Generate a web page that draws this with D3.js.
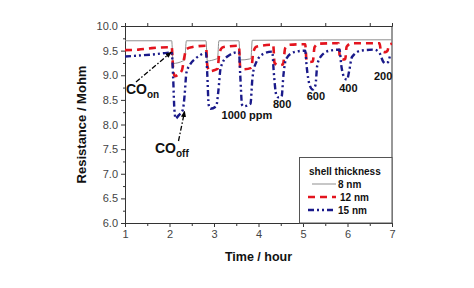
<!DOCTYPE html>
<html>
<head>
<meta charset="utf-8">
<script src="https://cdn.jsdelivr.net/npm/d3@7"></script>
<style>
  body { margin: 0; background: #fff; }
  text { font-family: "Liberation Sans", Arial, sans-serif; }
</style>
</head>
<body>
<svg id="chart" width="474" height="288"></svg>
<script>
// series: [time in hours, resistance in Mohm]
var shell8 = [[1.0,9.70],[2.05,9.70],[2.08,9.24],[2.30,9.29],[2.34,9.31],[2.38,9.70],[2.82,9.70],[2.85,9.29],[3.05,9.33],[3.08,9.34],[3.11,9.70],[3.56,9.70],[3.59,9.31],[3.80,9.33],[3.83,9.34],[3.86,9.71],[7.0,9.72]]
var shell12 = [[1.0,9.51],[1.3,9.52],[1.6,9.55],[2.0,9.57],[2.05,9.57],[2.08,9.15],[2.12,8.98],[2.2,9.02],[2.28,9.1],[2.32,9.3],[2.38,9.53],[2.5,9.57],[2.82,9.60],[2.85,9.2],[2.9,9.08],[3.0,9.1],[3.08,9.13],[3.12,9.45],[3.2,9.57],[3.56,9.6],[3.59,9.15],[3.65,9.12],[3.84,9.15],[3.88,9.45],[3.95,9.58],[4.33,9.62],[4.36,9.25],[4.45,9.2],[4.55,9.22],[4.6,9.55],[4.7,9.62],[5.05,9.63],[5.08,9.3],[5.15,9.27],[5.22,9.28],[5.26,9.57],[5.35,9.64],[5.8,9.65],[5.83,9.35],[5.9,9.32],[5.95,9.33],[5.98,9.58],[6.1,9.65],[6.72,9.65],[6.75,9.5],[6.85,9.47],[6.9,9.5],[6.93,9.62],[7.0,9.64]]
var shell15 = [[1.0,9.38],[1.3,9.40],[1.6,9.42],[1.9,9.45],[2.05,9.46],[2.08,9.0],[2.11,8.3],[2.14,8.12],[2.2,8.18],[2.3,8.3],[2.34,8.6],[2.38,9.05],[2.45,9.2],[2.6,9.35],[2.82,9.45],[2.85,9.0],[2.88,8.4],[2.92,8.32],[3.05,8.37],[3.1,8.7],[3.15,9.15],[3.3,9.38],[3.56,9.47],[3.59,9.0],[3.63,8.4],[3.66,8.37],[3.82,8.42],[3.86,8.9],[3.9,9.15],[4.1,9.43],[4.31,9.48],[4.34,9.1],[4.4,8.6],[4.45,8.55],[4.52,8.57],[4.56,9.0],[4.62,9.33],[4.8,9.47],[5.05,9.5],[5.08,9.2],[5.15,8.8],[5.22,8.71],[5.28,8.8],[5.32,9.2],[5.4,9.38],[5.6,9.5],[5.82,9.52],[5.86,9.2],[5.93,8.95],[5.99,8.91],[6.04,9.1],[6.1,9.37],[6.3,9.5],[6.6,9.52],[6.72,9.45],[6.8,9.28],[6.86,9.24],[6.92,9.28],[6.96,9.4],[7.0,9.42]]

var seriesNames = ['8 nm', '12 nm', '15 nm']
var xTicks = [1, 2, 3, 4, 5, 6, 7]
var yTicks = [6.0, 6.5, 7.0, 7.5, 8.0, 8.5, 9.0, 9.5, 10.0]

// concentration labels: [time, resistance, text]
var ppmLabels = [[3.74, 8.12, '1000 ppm'], [4.53, 8.33, '800'], [5.29, 8.49, '600'], [6.02, 8.65, '400'], [6.8, 8.9, '200']]

var svg = d3.select('#chart')
var margin = { left: 125, top: 26, right: 82, bottom: 65 }
var W = 474, H = 288
var x = d3.scaleLinear().domain([1, 7]).range([margin.left, W - margin.right])
var y = d3.scaleLinear().domain([6, 10]).range([H - margin.bottom, margin.top])

svg.append('defs').append('clipPath').attr('id', 'clip')
  .append('rect').attr('x', x(1)).attr('y', y(10)).attr('width', x(7) - x(1)).attr('height', y(6) - y(10))

var marker = svg.select('defs').append('marker')
  .attr('id', 'arrow').attr('viewBox', '0 0 10 10').attr('refX', 9).attr('refY', 5)
  .attr('markerWidth', 5).attr('markerHeight', 5).attr('orient', 'auto')
marker.append('path').attr('d', 'M0,1 L10,5 L0,9 Z').attr('fill', '#000')

var styles = [
  { color: '#8f8f8f', width: 1, dash: null },
  { color: '#e3141e', width: 2.6, dash: '7,5' },
  { color: '#1a1a8a', width: 2.4, dash: '6,3,2,3,2,3' }
]

// axes
var tickColor = '#333'
var fmt = d3.format('.1f')
var yAxis = svg.append('g').attr('transform', 'translate(' + x(1) + ',0)')
  .call(d3.axisLeft(y).tickValues(yTicks).tickFormat(fmt).tickSizeOuter(0).tickSize(4).tickPadding(3))
var yMinor = svg.append('g').attr('transform', 'translate(' + x(1) + ',0)')
  .call(d3.axisLeft(y).tickValues(d3.range(6.25, 10, 0.5)).tickFormat('').tickSizeOuter(0).tickSize(2))
var xAxis = svg.append('g').attr('transform', 'translate(0,' + y(6) + ')')
  .call(d3.axisBottom(x).tickValues(xTicks).tickFormat(d3.format('d')).tickSizeOuter(0).tickSize(4).tickPadding(3))
var xMinor = svg.append('g').attr('transform', 'translate(0,' + y(6) + ')')
  .call(d3.axisBottom(x).tickValues(d3.range(1.5, 7, 1)).tickFormat('').tickSizeOuter(0).tickSize(3))
var xTop = svg.append('g').attr('transform', 'translate(0,' + y(10) + ')')
  .call(d3.axisTop(x).tickValues(d3.range(1.5, 7, 1)).tickFormat('').tickSizeOuter(0).tickSize(3))
svg.append('line').attr('x1', x(7)).attr('x2', x(7)).attr('y1', y(10)).attr('y2', y(6))
  .attr('stroke', tickColor).attr('stroke-width', 1)
;[yAxis, yMinor, xAxis, xMinor, xTop].forEach((g) => {
  g.selectAll('path, line').attr('stroke', tickColor)
  g.selectAll('text').attr('font-size', 11).attr('fill', '#444')
    .style('font-family', '"Liberation Sans", Arial, sans-serif')
})

// axis titles
svg.append('text').attr('x', (x(1) + x(7)) / 2).attr('y', 261).attr('text-anchor', 'middle')
  .attr('font-size', 12.5).attr('font-weight', 'bold').attr('fill', '#111').text('Time / hour')
svg.append('text').attr('transform', 'translate(86,' + ((y(6) + y(10)) / 2) + ') rotate(-90)')
  .attr('text-anchor', 'middle').attr('font-size', 13).attr('font-weight', 'bold').attr('fill', '#111')
  .text('Resistance / Mohm')

// curves
var line = d3.line().x((d) => x(d[0])).y((d) => y(d[1])).curve(d3.curveMonotoneX)
var plot = svg.append('g').attr('clip-path', 'url(#clip)')
;[shell8, shell12, shell15].forEach((data, i) => {
  plot.append('path').datum(data).attr('d', line).attr('fill', 'none')
    .attr('stroke', styles[i].color).attr('stroke-width', styles[i].width)
    .attr('stroke-dasharray', styles[i].dash)
})

// concentration labels
ppmLabels.forEach((p) => {
  svg.append('text').attr('x', x(p[0])).attr('y', y(p[1])).attr('text-anchor', 'middle')
    .attr('font-size', 11).attr('font-weight', 'bold').attr('fill', '#111').text(p[2])
})

// CO on / off annotations
var coOn = svg.append('text').attr('x', 126).attr('y', 94).attr('font-size', 14).attr('font-weight', 'bold').attr('fill', '#111')
coOn.append('tspan').text('CO')
coOn.append('tspan').attr('font-size', 10).attr('dy', 4).text('on')
var coOff = svg.append('text').attr('x', 155).attr('y', 153).attr('font-size', 14).attr('font-weight', 'bold').attr('fill', '#111')
coOff.append('tspan').text('CO')
coOff.append('tspan').attr('font-size', 10).attr('dy', 4).text('off')

svg.append('line').attr('x1', 136).attr('y1', 82).attr('x2', x(2.04)).attr('y2', y(9.47))
  .attr('stroke', '#000').attr('stroke-width', 1.3).attr('stroke-dasharray', '5,2,1.5,2')
  .attr('marker-end', 'url(#arrow)')
svg.append('line').attr('x1', 178.5).attr('y1', 141).attr('x2', x(2.34)).attr('y2', y(8.27))
  .attr('stroke', '#000').attr('stroke-width', 1.3).attr('stroke-dasharray', '5,2,1.5,2')
  .attr('marker-end', 'url(#arrow)')

// legend
var lg = svg.append('g')
lg.append('rect').attr('x', 299.5).attr('y', 157.5).attr('width', x(7) - 299.5).attr('height', y(6) - 157.5)
  .attr('fill', '#fff').attr('stroke', '#555').attr('stroke-width', 1)
lg.append('text').attr('x', 309).attr('y', 175).attr('font-size', 10).attr('font-weight', 'bold').attr('fill', '#111').text('shell thickness')
seriesNames.forEach((name, i) => {
  var ly = 184 + i * 13
  lg.append('line').attr('x1', i === 0 ? 312 : 308).attr('x2', 336).attr('y1', ly).attr('y2', ly)
    .attr('stroke', styles[i].color).attr('stroke-width', styles[i].width).attr('stroke-dasharray', styles[i].dash)
  lg.append('text').attr('x', i === 1 ? 340 : 338).attr('y', ly + 3.5).attr('font-size', 10).attr('font-weight', 'bold')
    .attr('fill', '#111').text(name)
})
</script>
</body>
</html>
